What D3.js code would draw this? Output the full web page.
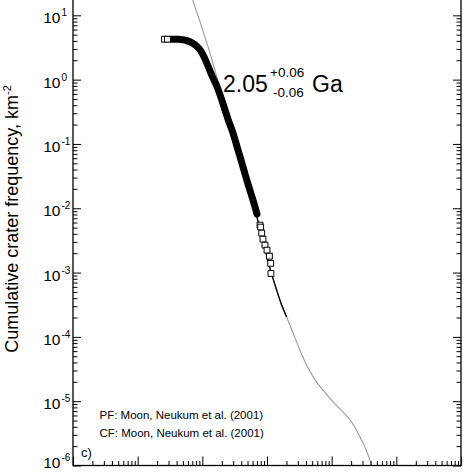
<!DOCTYPE html>
<html lang="en">
	<head>
		<meta charset="utf-8">
		<title>Crater size-frequency</title>
		<script src="https://d3js.org/d3.v7.min.js"></script>
		<style type="text/css">
		body { margin: 0; background: #fff; }
		text {
			font-family: "Liberation Sans", Arial, Helvetica, sans-serif;
			fill: #000;
		}
		</style>
	</head>
	<body>
		<div id="chart"></div>
		<script type="text/javascript">
		// Size
		var w = 474;
		var h = 474;

		// Production function (PF): diameter km / cumulative freq km^-2
		var pfD = [0.0452, 0.0710, 0.0953, 0.131, 0.169, 0.224, 0.320, 0.457, 0.652, 0.867, 1.11, 1.38,
			1.69, 2.01, 2.55, 3.24, 4.11, 5.20, 7.41, 10.6, 15.1, 20.4, 25.8, 32.7, 39.2, 43.0];
		var pfN = [98, 17.5, 7.14, 2.61, 1.07, 0.405, 0.115, 0.0329, 0.00938, 0.0032, 0.00117, 5.71e-4,
			3.10e-4, 2.04e-4, 1.12e-4, 6.18e-5, 3.61e-5, 2.37e-5, 1.47e-5, 9.68e-6, 6.76e-6, 4.72e-6, 3.12e-6, 1.93e-6, 1.20e-6, 8.5e-7];

		// Fit range of the chronology function (black part of the curve)
		var fitRange = [0.45, 2.05];

		// Dense part of the measured cumulative counts
		var bandD = [0.0316, 0.0421, 0.0540, 0.0644, 0.0771, 0.0921, 0.106, 0.122, 0.141, 0.169, 0.195,
			0.224, 0.258, 0.298, 0.356, 0.426, 0.508, 0.607, 0.700];
		var bandN = [4.25, 4.25, 4.10, 3.88, 3.48, 2.91, 2.27, 1.64, 1.15, 0.773, 0.521,
			0.339, 0.220, 0.148, 0.0807, 0.0439, 0.0238, 0.0134, 0.00813];

		// Individual points visible at both ends
		var ptD = [0.0260, 0.0289, 0.780, 0.798, 0.828, 0.867, 0.931, 1.00, 1.09, 1.14, 1.15];
		var ptN = [4.25, 4.25, 0.00547, 0.00509, 0.00411, 0.00331, 0.00267, 0.00223, 0.00180, 0.00139, 9.68e-4];

		// Y tick labels
		var yTicks = [1e1, 1e0, 1e-1, 1e-2, 1e-3, 1e-4, 1e-5, 1e-6];
		var yExp = ["1", "0", "-1", "-2", "-3", "-4", "-5", "-6"];
		var xDecades = [1e-3, 1e-2, 1e-1, 1e0, 1e1, 1e2, 1e3];

		// Scales
		var xScale = d3.scaleLog()
		.domain([1e-3, 1e3])
		.range([73, 461]);

		var yScale = d3.scaleLog()
		.domain([1e-6, 1e2])
		.range([465.5, -49]);

		var svg = d3.select("div#chart")
		.append("svg")
		.attr("width", w)
		.attr("height", h);

		svg.append("clipPath")
		.attr("id", "plotclip")
		.append("rect")
		.attr("x", 73)
		.attr("y", -49)
		.attr("width", 461 - 73)
		.attr("height", 465.5 + 49);

		var plot = svg.append("g").attr("clip-path", "url(#plotclip)");

		var pf = pfD.map((d, i) => ({ D: d, N: pfN[i] }));
		var band = bandD.map((d, i) => ({ D: d, N: bandN[i] }));
		var pts = ptD.map((d, i) => ({ D: d, N: ptN[i] }));

		var line = d3.line()
		.x(d => xScale(d.D))
		.y(d => yScale(d.N))
		.curve(d3.curveMonotoneX);

		// grey PF
		plot.append("path")
		.datum(pf)
		.attr("d", line)
		.attr("fill", "none")
		.attr("stroke", "#9a9a9a")
		.attr("stroke-width", 1.1);

		// dense data, drawn as a thick band
		plot.append("path")
		.datum(band)
		.attr("d", line)
		.attr("fill", "none")
		.attr("stroke", "#000")
		.attr("stroke-width", 7)
		.attr("stroke-linecap", "round");

		// black fitted segment
		plot.append("path")
		.datum(pf.filter(d => d.D >= fitRange[0] && d.D <= fitRange[1]))
		.attr("d", line)
		.attr("fill", "none")
		.attr("stroke", "#000")
		.attr("stroke-width", 1.4);

		// open squares
		plot.selectAll("path.pt")
		.data(pts)
		.enter()
		.append("path")
		.attr("class", "pt")
		.attr("transform", d => "translate(" + xScale(d.D) + "," + yScale(d.N) + ")")
		.attr("d", d3.symbol().type(d3.symbolSquare).size(34))
		.attr("fill", "#fff")
		.attr("stroke", "#000")
		.attr("stroke-width", 1);

		// Axes: minor and major ticks, all pointing inward
		var minorX = xScale.ticks().filter(v => !xDecades.some(m => Math.abs(m - v) / m < 1e-6));
		var minorY = yScale.ticks().filter(v => Math.abs(Math.log10(v) - Math.round(Math.log10(v))) > 1e-6);
		var majorY = yScale.ticks().filter(v => Math.abs(Math.log10(v) - Math.round(Math.log10(v))) <= 1e-6);

		function addAxis(axis, tx, ty) {
			var g = svg.append("g")
			.attr("transform", "translate(" + tx + "," + ty + ")")
			.call(axis);
			g.select(".domain").remove();
			g.selectAll("text").remove();
			g.selectAll("line").attr("stroke", "#000").attr("stroke-width", 1);
		}

		addAxis(d3.axisBottom(xScale).tickValues(minorX).tickSize(-4.5).tickSizeOuter(0), 0, 465.5);
		addAxis(d3.axisBottom(xScale).tickValues(xDecades).tickSize(-9).tickSizeOuter(0), 0, 465.5);
		addAxis(d3.axisLeft(yScale).tickValues(minorY).tickSize(-4.5).tickSizeOuter(0), 73, 0);
		addAxis(d3.axisLeft(yScale).tickValues(majorY).tickSize(-8).tickSizeOuter(0), 73, 0);
		addAxis(d3.axisRight(yScale).tickValues(minorY).tickSize(-4.5).tickSizeOuter(0), 461, 0);
		addAxis(d3.axisRight(yScale).tickValues(majorY).tickSize(-8).tickSizeOuter(0), 461, 0);

		// frame
		svg.append("rect")
		.attr("x", 73)
		.attr("y", -49)
		.attr("width", 461 - 73)
		.attr("height", 465.5 + 49)
		.attr("fill", "none")
		.attr("stroke", "#000")
		.attr("stroke-width", 1.3);

		// Y tick labels 10^n
		var labels = svg.append("g");
		yTicks.forEach(function (v, i) {
			var base = yScale(v) + (i === yTicks.length - 1 ? 2 : 8);
			labels.append("text")
			.attr("x", 60.5)
			.attr("y", base)
			.attr("text-anchor", "end")
			.style("font-size", "15.5px")
			.text("10");
			labels.append("text")
			.attr("x", 61.5)
			.attr("y", base - 7)
			.style("font-size", "10px")
			.text(yExp[i]);
		});

		// Y axis title
		var title = svg.append("text")
		.attr("transform", "translate(17.5,219) rotate(-90)")
		.attr("text-anchor", "middle")
		.style("font-size", "18px");
		title.append("tspan").text("Cumulative crater frequency, km");
		title.append("tspan").attr("dy", -7).style("font-size", "11px").text("-2");

		// Age annotation
		svg.append("text").attr("x", 223).attr("y", 92).style("font-size", "23px").text("2.05");
		svg.append("text").attr("x", 270).attr("y", 77).style("font-size", "13.5px").text("+0.06");
		svg.append("text").attr("x", 273).attr("y", 97).style("font-size", "13.5px").text("-0.06");
		svg.append("text").attr("x", 312).attr("y", 92).style("font-size", "23px").text("Ga");

		// Function notes
		svg.append("text").attr("x", 99.5).attr("y", 419).style("font-size", "11.5px")
		.text("PF: Moon, Neukum et al. (2001)");
		svg.append("text").attr("x", 99.5).attr("y", 437).style("font-size", "11.5px")
		.text("CF: Moon, Neukum et al. (2001)");

		// panel letter
		svg.append("text").attr("x", 81).attr("y", 457).style("font-size", "13px").text("c)");
		</script>
	</body>
</html>
